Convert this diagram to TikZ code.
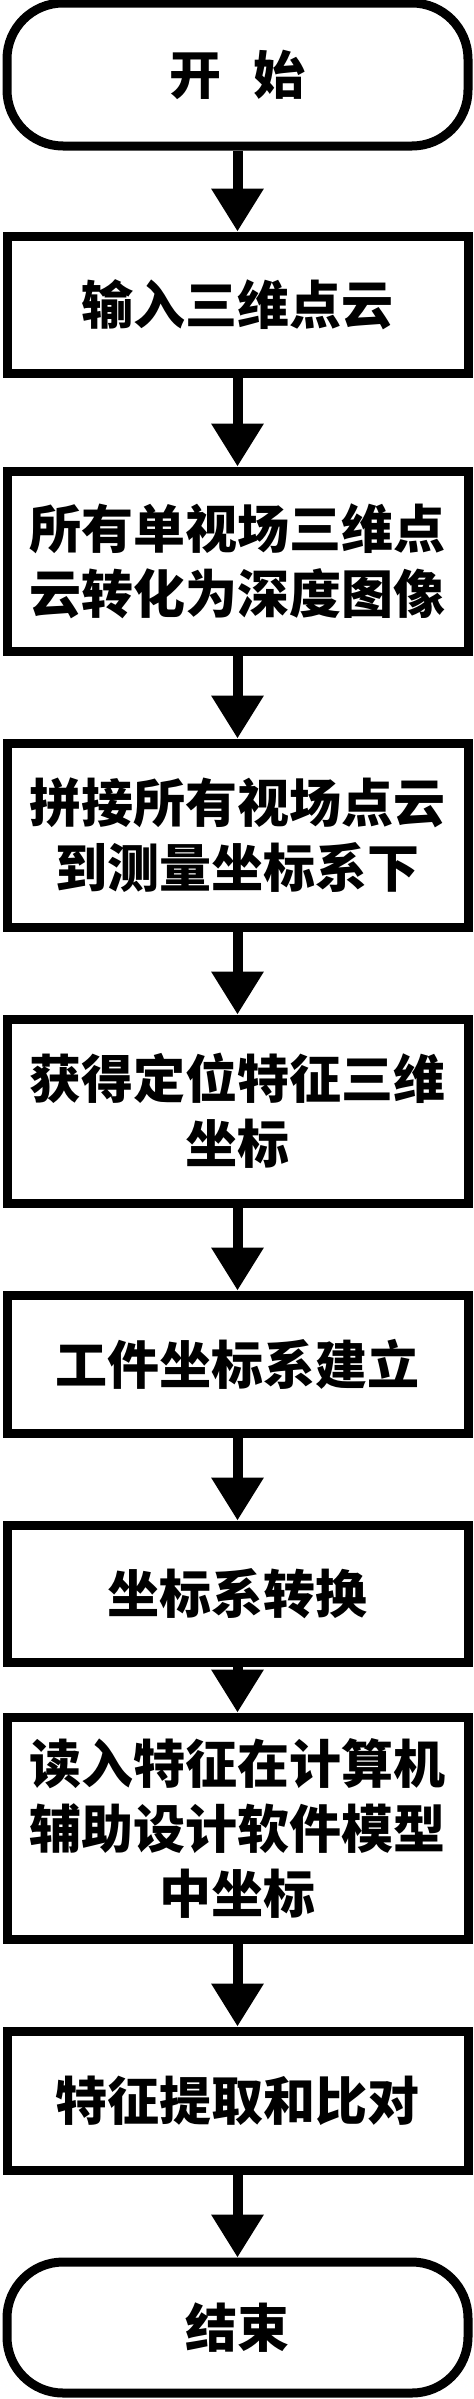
\documentclass[tikz,border=0pt]{standalone}
\usepackage{fontspec}
\usepackage{tikz}
\usetikzlibrary{arrows.meta,positioning}
\newfontfamily\cjk{Noto Sans CJK SC}

\begin{document}
\begin{tikzpicture}[
          node distance=41.5pt,
          box/.style={rectangle, draw, line width=4.5pt, align=center, inner sep=0pt,
                      font=\cjk\bfseries\fontsize{26}{32.5}\selectfont,
                      minimum width=230.5pt, minimum height=68.5pt},
          term/.style={box, rounded corners=28pt},
          >={Triangle[length=21.5pt,width=25pt]}
        ]
        \useasboundingbox (0,0) rectangle (237pt,-1199.5pt);
        \node[term, minimum height=71.5pt] (a) at (118.75pt,-37.25pt) {开\hspace{0.6em}始};
        \node[box, below=40.5pt of a] (b) {输入三维点云};
        \node[box, minimum height=90pt, below=44.5pt of b] (c) {所有单视场三维点\\云转化为深度图像};
        \node[box, minimum height=92pt, below=of c] (d) {拼接所有视场点云\\到测量坐标系下};
        \node[box, minimum height=92pt, below=of d] (e) {获得定位特征三维\\坐标};
        \node[box, minimum height=69pt, below=of e] (f) {工件坐标系建立};
        \node[box, below=of f] (g) {坐标系转换};
        \node[box, minimum height=111pt, below=23pt of g] (h) {读入特征在计算机\\辅助设计软件模型\\中坐标};
        \node[box, minimum height=69.5pt, below=of h] (i) {特征提取和比对};
        \node[term, minimum height=65.5pt, below=of i] (j) {结束};
        \draw[->, line width=5pt] (a)--(b); \draw[->, line width=5pt] (b)--(c);
        \draw[->, line width=5pt] (c)--(d); \draw[->, line width=5pt] (d)--(e);
        \draw[->, line width=5pt] (e)--(f); \draw[->, line width=5pt] (f)--(g);
        \draw[->, line width=5pt] (g)--(h); \draw[->, line width=5pt] (h)--(i);
        \draw[->, line width=5pt] (i)--(j);
      \end{tikzpicture}
\end{document}
